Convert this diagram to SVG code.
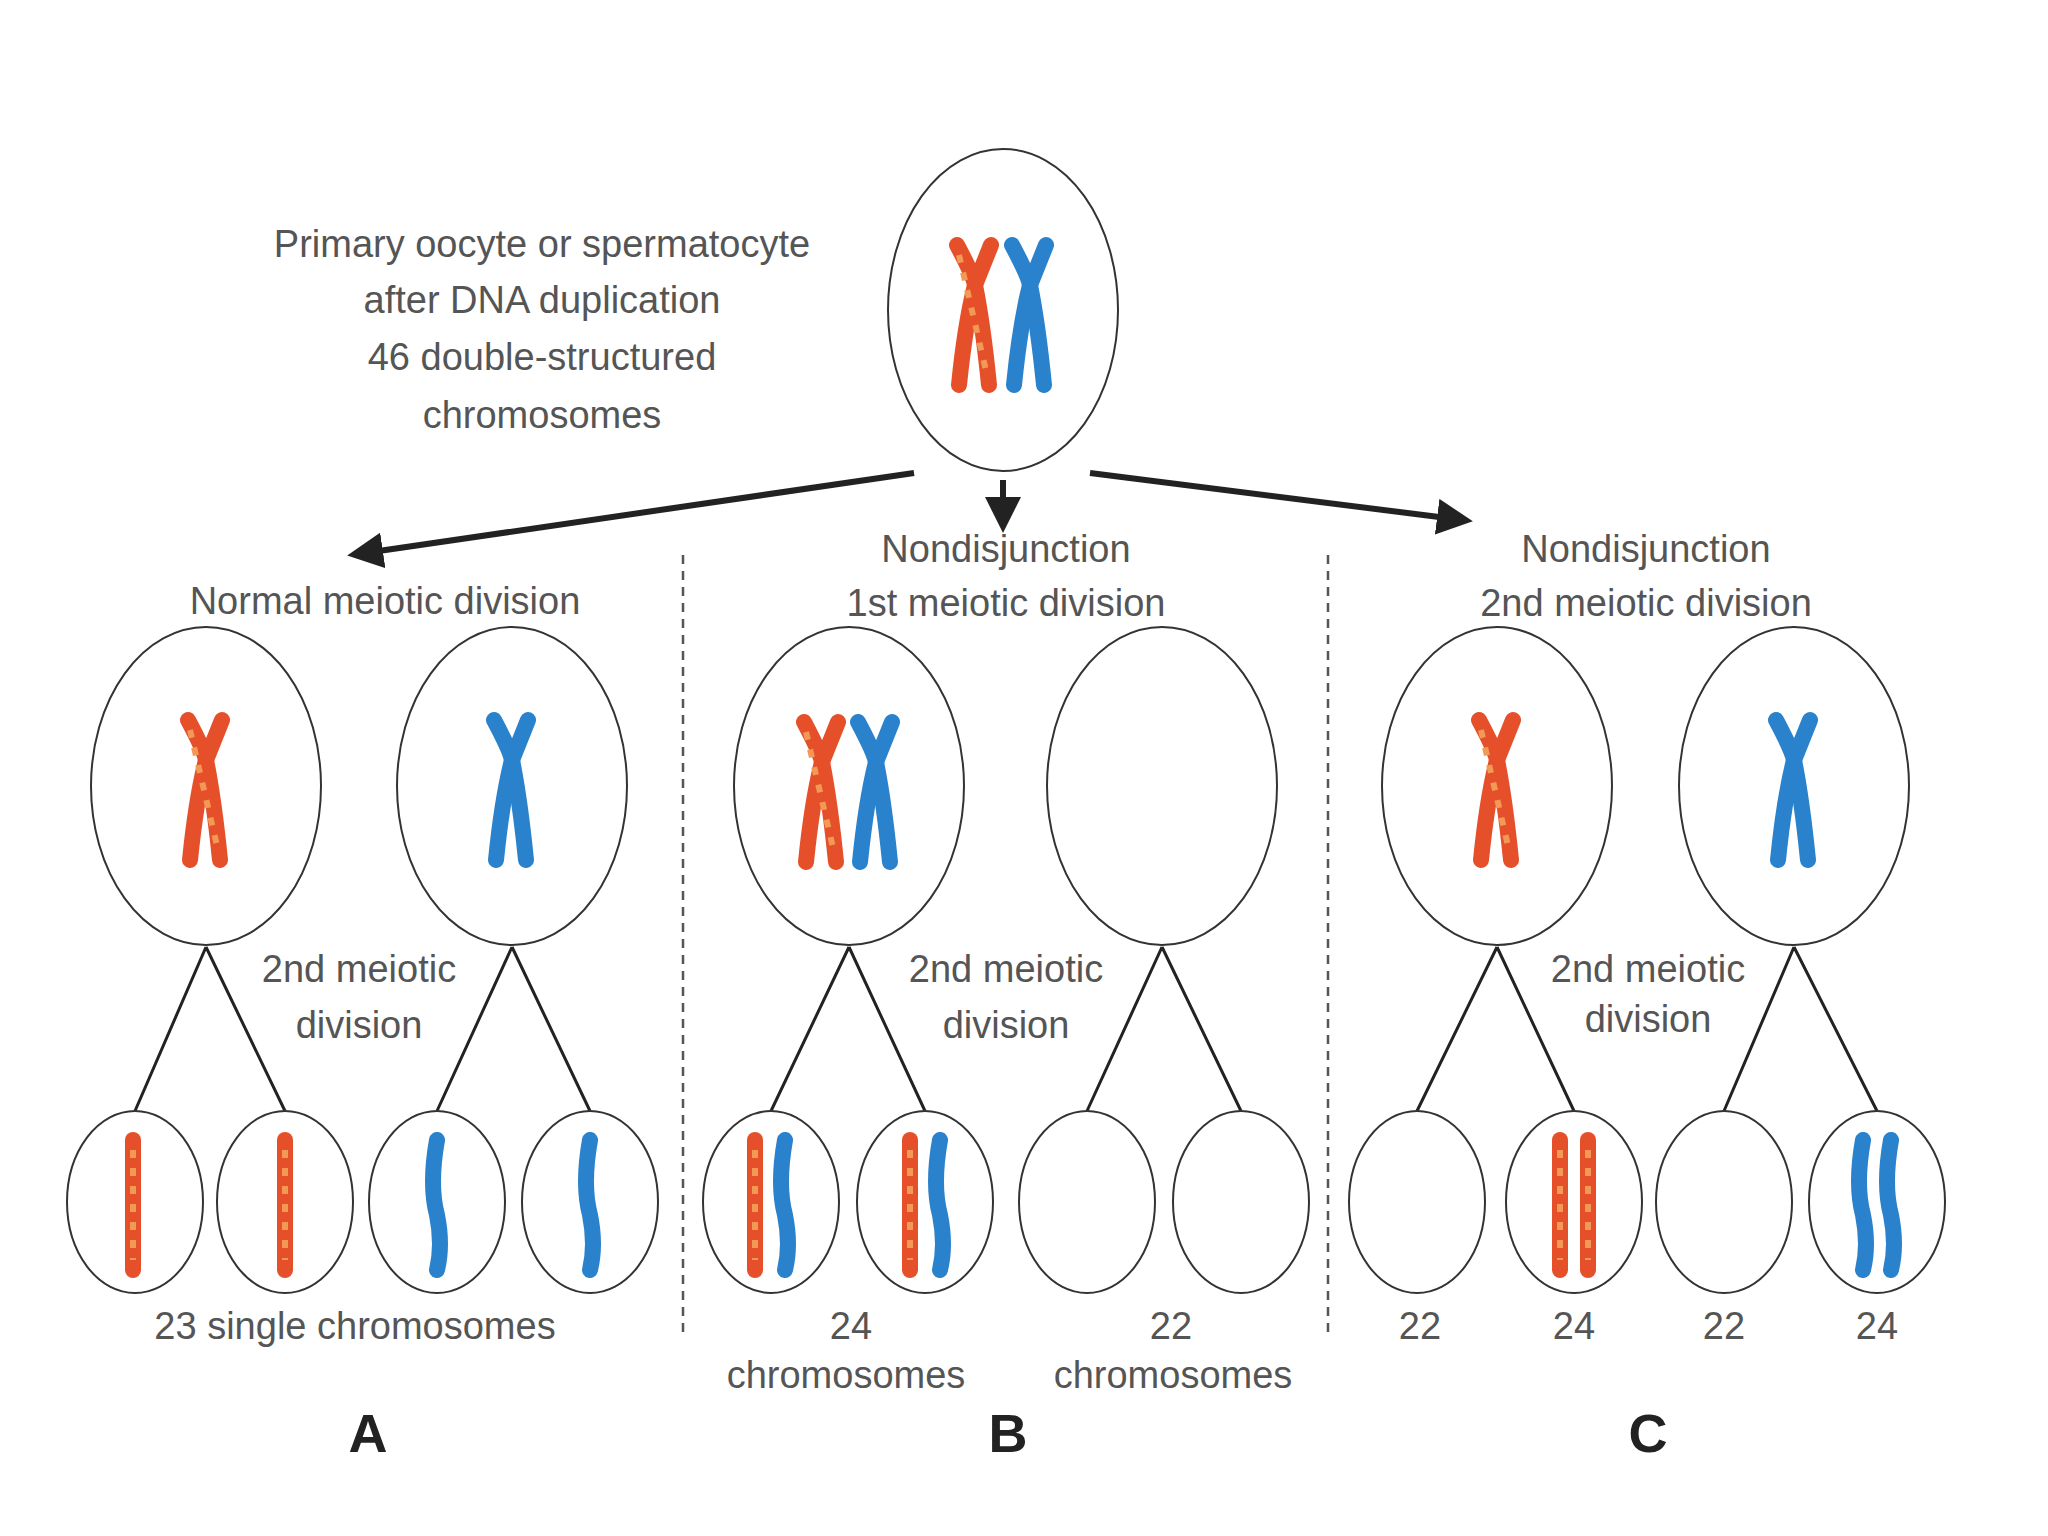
<svg xmlns="http://www.w3.org/2000/svg" width="2048" height="1536" viewBox="0 0 2048 1536">
<style>
.cell{fill:none;stroke:#333;stroke-width:2}
.t{font-family:"Liberation Sans",Arial,sans-serif;font-size:38px;fill:#555;text-anchor:middle}
.big{font-family:"Liberation Sans",Arial,sans-serif;font-size:54px;font-weight:bold;fill:#222;text-anchor:middle}
.ln{stroke:#222;stroke-width:3;fill:none}
.ar{stroke:#222;stroke-width:6;fill:none;marker-end:url(#ah)}
.dash{stroke:#555;stroke-width:2.5;stroke-dasharray:9 7}
.r{stroke:#e5502a;stroke-width:16;fill:none;stroke-linecap:round}
.o{stroke:#f29a55;stroke-width:6;fill:none;stroke-dasharray:8 10}
.b{stroke:#2a82cc;stroke-width:16;fill:none;stroke-linecap:round}
</style>
<defs>
<marker id="ah" markerWidth="6" markerHeight="6" refX="3" refY="3" orient="auto" markerUnits="strokeWidth"><path d="M0,0 L6,3 L0,6 Z" fill="#222"/></marker>
<g id="xr"><path class="r" d="M-18,-70 Q-2,-40 0,-30 Q8,10 14,70"/><path class="r" d="M16,-70 Q4,-40 0,-30 Q-10,10 -16,70"/><path class="o" d="M-16,-60 L12,60"/></g>
<g id="xb"><path class="b" d="M-18,-70 Q-2,-40 0,-30 Q8,10 14,70"/><path class="b" d="M16,-70 Q4,-40 0,-30 Q-10,10 -16,70"/></g>
<g id="sr"><path class="r" d="M0,-65 L0,65"/><path class="o" d="M0,-55 L0,55"/></g>
<g id="sb"><path class="b" d="M0,-65 Q-8,-20 0,10 Q6,40 0,65"/></g>
</defs>
<rect width="2048" height="1536" fill="#fff"/>
<g id="top">
<ellipse class="cell" cx="1003" cy="310" rx="115" ry="161"/>
<use href="#xr" x="975" y="315"/><use href="#xb" x="1030" y="315"/>
<text class="t" x="542" y="257">Primary oocyte or spermatocyte</text>
<text class="t" x="542" y="313">after DNA duplication</text>
<text class="t" x="542" y="370">46 double-structured</text>
<text class="t" x="542" y="428">chromosomes</text>
</g>
<g id="connectors">
<path class="ar" d="M914,473 L365,553"/>
<path class="ar" d="M1003,480 L1003,515"/>
<path class="ar" d="M1090,473 L1455,519"/>
<line class="dash" x1="683" y1="555" x2="683" y2="1339"/>
<line class="dash" x1="1328" y1="555" x2="1328" y2="1339"/>
<path class="ln" d="M206,947 L135,1111 M206,947 L285,1111 M512,947 L437,1111 M512,947 L590,1111 M849,947 L771,1111 M849,947 L925,1111 M1162,947 L1087,1111 M1162,947 L1241,1111 M1497,947 L1417,1111 M1497,947 L1574,1111 M1794,947 L1724,1111 M1794,947 L1877,1111"/>
</g>
<g id="A">
<text class="t" x="385" y="614">Normal meiotic division</text>
<ellipse class="cell" cx="206" cy="786" rx="115" ry="159"/><use href="#xr" x="206" y="790"/>
<ellipse class="cell" cx="512" cy="786" rx="115" ry="159"/><use href="#xb" x="512" y="790"/>
<text class="t" x="359" y="982">2nd meiotic</text><text class="t" x="359" y="1038">division</text>
<ellipse class="cell" cx="135" cy="1202" rx="68" ry="91"/><use href="#sr" x="133" y="1205"/>
<ellipse class="cell" cx="285" cy="1202" rx="68" ry="91"/><use href="#sr" x="285" y="1205"/>
<ellipse class="cell" cx="437" cy="1202" rx="68" ry="91"/><use href="#sb" x="437" y="1205"/>
<ellipse class="cell" cx="590" cy="1202" rx="68" ry="91"/><use href="#sb" x="590" y="1205"/>
<text class="t" x="355" y="1339">23 single chromosomes</text>
<text class="big" x="368" y="1452">A</text>
</g>
<g id="B">
<text class="t" x="1006" y="562">Nondisjunction</text><text class="t" x="1006" y="616">1st meiotic division</text>
<ellipse class="cell" cx="849" cy="786" rx="115" ry="159"/><use href="#xr" x="822" y="792"/><use href="#xb" x="876" y="792"/>
<ellipse class="cell" cx="1162" cy="786" rx="115" ry="159"/>
<text class="t" x="1006" y="982">2nd meiotic</text><text class="t" x="1006" y="1038">division</text>
<ellipse class="cell" cx="771" cy="1202" rx="68" ry="91"/><use href="#sr" x="755" y="1205"/><use href="#sb" x="785" y="1205"/>
<ellipse class="cell" cx="925" cy="1202" rx="68" ry="91"/><use href="#sr" x="910" y="1205"/><use href="#sb" x="940" y="1205"/>
<ellipse class="cell" cx="1087" cy="1202" rx="68" ry="91"/>
<ellipse class="cell" cx="1241" cy="1202" rx="68" ry="91"/>
<text class="t" x="851" y="1339">24</text><text class="t" x="846" y="1388">chromosomes</text>
<text class="t" x="1171" y="1339">22</text><text class="t" x="1173" y="1388">chromosomes</text>
<text class="big" x="1008" y="1452">B</text>
</g>
<g id="C">
<text class="t" x="1646" y="562">Nondisjunction</text><text class="t" x="1646" y="616">2nd meiotic division</text>
<ellipse class="cell" cx="1497" cy="786" rx="115" ry="159"/><use href="#xr" x="1497" y="790"/>
<ellipse class="cell" cx="1794" cy="786" rx="115" ry="159"/><use href="#xb" x="1794" y="790"/>
<text class="t" x="1648" y="982">2nd meiotic</text><text class="t" x="1648" y="1032">division</text>
<ellipse class="cell" cx="1417" cy="1202" rx="68" ry="91"/>
<ellipse class="cell" cx="1574" cy="1202" rx="68" ry="91"/><use href="#sr" x="1560" y="1205"/><use href="#sr" x="1588" y="1205"/>
<ellipse class="cell" cx="1724" cy="1202" rx="68" ry="91"/>
<ellipse class="cell" cx="1877" cy="1202" rx="68" ry="91"/><use href="#sb" x="1863" y="1205"/><use href="#sb" x="1891" y="1205"/>
<text class="t" x="1420" y="1339">22</text><text class="t" x="1574" y="1339">24</text>
<text class="t" x="1724" y="1339">22</text><text class="t" x="1877" y="1339">24</text>
<text class="big" x="1648" y="1452">C</text>
</g>
</svg>
